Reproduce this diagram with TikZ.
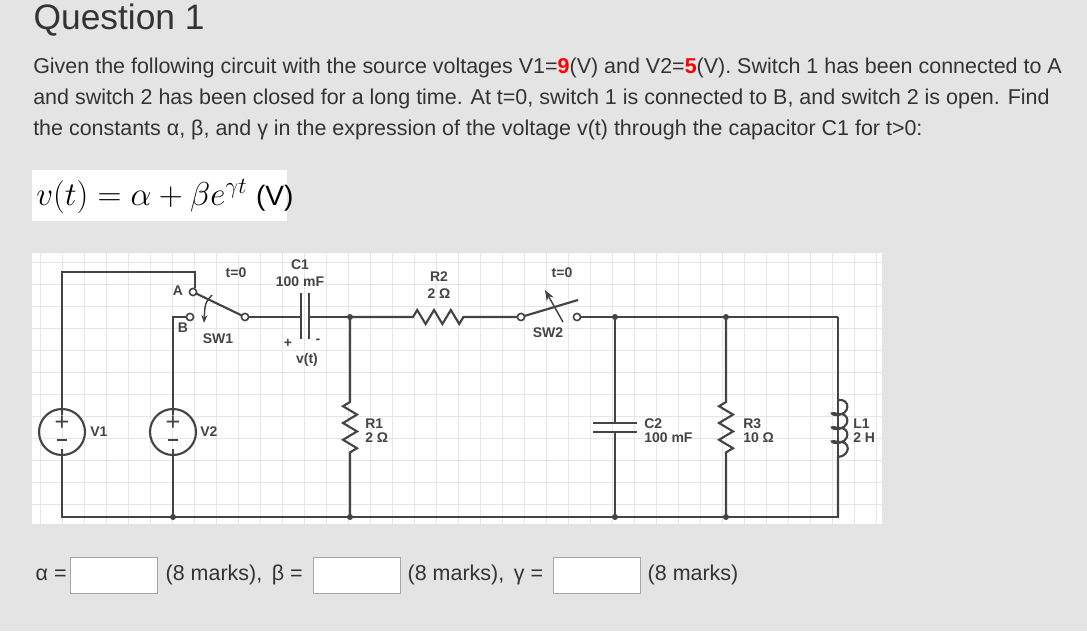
\documentclass[tikz,border=0pt]{standalone}
\usepackage{fontspec}
\setmainfont{Liberation Sans}
\usetikzlibrary{arrows.meta}
\definecolor{bg}{HTML}{E4E4E4}
\definecolor{txt}{HTML}{333333}
\definecolor{wire}{HTML}{444444}
\definecolor{gridc}{HTML}{E6E6E6}
\begin{document}
\begin{tikzpicture}[x=0.75pt,y=-0.75pt,
  w/.style={draw=wire,line width=1.6pt},
  lab/.style={font=\fontsize{10.5}{11}\selectfont\bfseries,text=wire,inner sep=0pt},
  sign/.style={font=\fontsize{19}{19}\selectfont,text=wire,inner sep=0pt},
  term/.style={draw=wire,fill=white,line width=1.2pt},
  dot/.style={fill=wire},
  body/.style={text=txt,font=\fontsize{16.1}{16}\selectfont},
  box/.style={draw=gray!70,fill=white,line width=0.6pt}]
\useasboundingbox (0,0) rectangle (1087,631);
\fill[bg] (0,0) rectangle (1087,631);
% title and text
\node[anchor=west,text=txt,font=\fontsize{26.5}{28}\selectfont] (title) at (29,20) {Question 1};
\node[anchor=north west,text=txt,font=\fontsize{16.1}{23.25}\selectfont,align=left,inner sep=0pt] (para) at (33,58)
{Given the following circuit with the source voltages V1=\textcolor{red}{\bfseries 9}(V) and V2=\textcolor{red}{\bfseries 5}(V). Switch 1 has been connected to A\\
and switch 2 has been closed for a long time. At t=0, switch 1 is connected to B, and switch 2 is open. Find\\
the constants α, β, and γ in the expression of the voltage v(t) through the capacitor C1 for t>0:};
\fill[white] (32,170) rectangle (287,221);
\node[anchor=west,text=black,font=\fontsize{24}{26}\selectfont,inner sep=0pt] (eq) at (36,197) {$v(t) = \alpha + \beta e^{\gamma t}$ \fontsize{21}{22}\selectfont(V)};
% circuit panel
\fill[white] (32,253) rectangle (882,524);
\begin{scope}
\clip (32,253) rectangle (882,524);
\foreach \x in {40,62,...,880} \draw[gridc,line width=0.5pt] (\x,253) -- (\x,524);
\foreach \y in {262,284,...,524} \draw[gridc,line width=0.5pt] (32,\y) -- (882,\y);
\end{scope}
% coordinates
\coordinate (A) at (193,292);
\coordinate (B) at (190,317);
\coordinate (P) at (245,317);
\coordinate (n1) at (350,317);
\coordinate (s2a) at (521,317);
\coordinate (s2b) at (577,317);
\coordinate (n2) at (615,317);
\coordinate (n3) at (726,317);
\coordinate (n4) at (838,317);
\coordinate (g1) at (62,517);
\coordinate (g2) at (173,517);
\coordinate (g3) at (350,517);
\coordinate (g4) at (615,517);
\coordinate (g5) at (726,517);
\coordinate (g6) at (838,517);
% V1 wiring
\draw[w] (62,415) -- (62,272) -- (195,272) -- (195,288);
\draw[w] (62,449) -- (g1) -- (g6) -- (n4);
\node[draw=wire,line width=1.6pt,circle,minimum size=34.5pt,inner sep=0pt] (V1) at (62,432) {};
\node[sign] (V1p) at (62,423) {+};
\node[sign] (V1m) at (62,441) {\rule[2pt]{8pt}{1.3pt}};
\node[lab,anchor=west] at (90,432) {V1};
% V2
\draw[w] (173,415) -- (173,317) -- (B);
\draw[w] (173,449) -- (g2);
\node[draw=wire,line width=1.6pt,circle,minimum size=34.5pt,inner sep=0pt] (V2) at (173,432) {};
\node[sign] (V2p) at (173,423) {+};
\node[sign] (V2m) at (173,441) {\rule[2pt]{8pt}{1.3pt}};
\node[lab,anchor=west] at (200,432) {V2};
% SW1
\draw[w] (A) -- (P);
\draw[wire,line width=1.1pt,-{Stealth[length=6pt]}] (212,295) .. controls (205,303) .. (204,323);
\draw[term] (A) circle (3.6);
\draw[term] (B) circle (3.6);
\draw[term] (P) circle (3.6);
\node[lab] at (178,291) {A};
\node[lab] at (183,328) {B};
\node[lab] at (218,339) {SW1};
\node[lab] at (236,273) {t=0};
% C1
\draw[w] (248.6,317) -- (301,317);
\draw[w] (301,293) -- (301,339);
\draw[w] (309,293) -- (309,339);
\draw[w] (309,317) -- (n1);
\node[lab] at (300,265) {C1};
\node[lab] at (300,282) {100 mF};
\node[lab] at (288,343) {+};
\node[lab] at (318,341) {-};
\node[lab] at (307,360) {v(t)};
% R1
\draw[w] (n1) -- (350,402) -- ++(-7,4.2) -- ++(14,8.4) -- ++(-14,8.4) -- ++(14,8.4) -- ++(-14,8.4) -- ++(14,8.4) -- ++(-7,4.2) -- (g3);
\node[lab,anchor=west] at (365,424) {R1};
\node[lab,anchor=west] at (365,438) {2 Ω};
% R2
\draw[w] (n1) -- (413,317) -- ++(4.2,-7) -- ++(8.4,14) -- ++(8.4,-14) -- ++(8.4,14) -- ++(8.4,-14) -- ++(8.4,14) -- ++(4.2,-7) -- (s2a);
\node[lab] at (439,277) {R2};
\node[lab] at (439,294) {2 Ω};
% SW2
\draw[w] (s2a) -- (578,300);
\draw[wire,line width=1.1pt,-{Stealth[length=8pt]}] (563,322) -- (545,290);
\draw[term] (s2a) circle (3.6);
\draw[term] (s2b) circle (3.6);
\draw[w] (580.6,317) -- (n4);
\node[lab] at (562,273) {t=0};
\node[lab] at (548,333) {SW2};
% C2
\draw[w] (n2) -- (615,423);
\draw[w] (593,423) -- (637,423);
\draw[w] (593,432) -- (637,432);
\draw[w] (615,432) -- (g4);
\node[lab,anchor=west] at (644,424) {C2};
\node[lab,anchor=west] at (644,438) {100 mF};
% R3
\draw[w] (n3) -- (726,402) -- ++(-7,4.2) -- ++(14,8.4) -- ++(-14,8.4) -- ++(14,8.4) -- ++(-14,8.4) -- ++(14,8.4) -- ++(-7,4.2) -- (g5);
\node[lab,anchor=west] at (743,424) {R3};
\node[lab,anchor=west] at (743,438) {10 Ω};
% L1
\draw[w] (n4) -- (838,400);
\draw[w] (838,400)
  \foreach \k in {0,1,2} {
   .. controls (851,400+14*\k-2) and (851,400+14*\k+16) .. (835,400+14*\k+15)
   .. controls (830,400+14*\k+14) and (831,400+14*\k+12) .. (838,400+14*\k+14) }
   .. controls (851,440) and (851,456) .. (838,457) -- (g6);
\node[lab,anchor=west] at (853,424) {L1};
\node[lab,anchor=west] at (853,438) {2 H};
% dots
\foreach \p in {n1,n2,n3,g2,g3,g4,g5} \fill[dot] (\p) circle (3);
% answer row
\node[anchor=west,body] (la) at (31,575) {α =};
\draw[box] (70,557) rectangle (157,593);
\node[anchor=west,body] (lb) at (161,575) {(8 marks), \,β =};
\draw[box] (313,557) rectangle (400,593);
\node[anchor=west,body] (lc) at (403,575) {(8 marks), \,γ =};
\draw[box] (553,557) rectangle (640,593);
\node[anchor=west,body] (ld) at (643,575) {(8 marks)};
\end{tikzpicture}
\end{document}
